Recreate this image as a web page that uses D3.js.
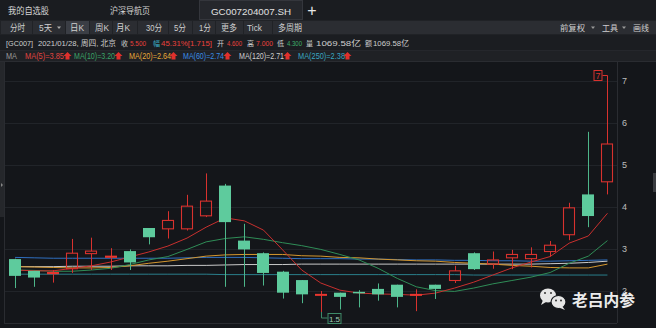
<!DOCTYPE html>
<html><head><meta charset="utf-8">
<script src="https://cdn.jsdelivr.net/npm/d3@7"></script>
<style>
html,body{margin:0;padding:0;background:#14161a;overflow:hidden}
svg{display:block}
text{font-family:"Liberation Sans","Noto Sans CJK SC",sans-serif}
</style></head><body>
<svg id="c" width="656" height="328"></svg>
<script>
// ---------- data ----------
const dates = ["2020-12-15","2020-12-16","2020-12-17","2020-12-18","2020-12-21","2020-12-22","2020-12-23","2020-12-24","2020-12-25","2020-12-28","2020-12-29","2020-12-30","2020-12-31","2021-01-04","2021-01-05","2021-01-06","2021-01-07","2021-01-08","2021-01-11","2021-01-12","2021-01-13","2021-01-14","2021-01-15","2021-01-18","2021-01-19","2021-01-20","2021-01-21","2021-01-22","2021-01-25","2021-01-26","2021-01-27","2021-01-28"];
const openP  = [2.76,2.48,2.40,2.53,2.89,2.79,2.95,3.50,3.48,3.48,3.79,4.51,3.20,2.90,2.46,2.26,1.90,1.96,1.98,2.05,2.15,1.90,2.15,2.25,2.90,2.64,2.79,2.77,2.94,3.34,4.30,4.60];
const closeP = [2.36,2.32,2.44,2.90,2.95,2.83,2.68,3.28,3.68,4.02,4.14,3.64,2.99,2.43,1.96,1.92,1.92,1.86,1.95,1.92,1.86,1.92,2.05,2.48,2.52,2.74,2.87,2.87,3.09,3.98,3.785,5.50];
const highP  = [2.77,2.48,2.50,3.24,3.27,3.02,2.99,3.50,3.90,4.29,4.80,4.55,3.60,2.92,2.48,2.26,2.00,1.96,2.02,2.18,2.15,2.04,2.15,2.60,2.92,2.94,2.98,3.04,3.19,4.10,5.79,7.00];
const lowP   = [2.07,2.10,2.20,2.43,2.50,2.50,2.50,3.11,3.25,3.44,3.76,2.10,2.10,2.13,1.82,1.71,1.50,1.56,1.61,1.77,1.61,1.52,1.81,2.19,2.50,2.53,2.52,2.56,2.82,3.21,3.52,4.30];
const ma5   = [2.50,2.48,2.48,2.54,2.60,2.69,2.81,2.93,3.07,3.26,3.52,3.74,3.67,3.45,2.98,2.50,2.19,2.02,1.95,1.93,1.92,1.90,1.95,2.07,2.21,2.38,2.55,2.69,2.82,3.14,3.31,3.85];
const ma10  = [2.50,2.49,2.47,2.47,2.50,2.54,2.63,2.74,2.82,2.99,3.17,3.25,3.29,3.23,3.15,3.08,2.99,2.87,2.74,2.54,2.30,2.10,2.01,1.99,2.07,2.17,2.25,2.33,2.44,2.66,2.83,3.20];
const ma20  = [2.58,2.57,2.56,2.55,2.55,2.56,2.60,2.66,2.71,2.77,2.83,2.86,2.87,2.87,2.87,2.84,2.83,2.80,2.79,2.76,2.74,2.72,2.71,2.68,2.66,2.64,2.61,2.59,2.56,2.55,2.55,2.64];
const ma60  = [2.80,2.79,2.78,2.78,2.78,2.78,2.78,2.78,2.78,2.79,2.80,2.80,2.80,2.79,2.78,2.77,2.77,2.77,2.76,2.76,2.75,2.74,2.74,2.73,2.73,2.72,2.72,2.71,2.71,2.72,2.73,2.74];
const ma120 = [2.58,2.58,2.58,2.59,2.59,2.59,2.60,2.60,2.60,2.61,2.61,2.62,2.63,2.63,2.63,2.64,2.64,2.64,2.64,2.64,2.64,2.64,2.64,2.64,2.64,2.64,2.64,2.64,2.65,2.66,2.68,2.71];
const ma250 = [2.40,2.40,2.40,2.40,2.40,2.40,2.40,2.40,2.40,2.40,2.40,2.39,2.39,2.39,2.39,2.39,2.39,2.39,2.39,2.39,2.39,2.39,2.39,2.39,2.38,2.38,2.38,2.38,2.38,2.38,2.38,2.38];
const yTicks = [2,3,4,5,6,7];
const tabs = ["我的自选股","沪深导航页","GC007204007.SH"];
const periods = ["分时","5天","日K","周K","月K","30分","5分","1分","更多","Tick","多周期"];
const rightTools = ["前复权","工具","画线"];
const maNames = ["MA(5)","MA(10)","MA(20)","MA(60)","MA(120)","MA(250)"];

// ---------- setup ----------
const svg = d3.select("#c");
const W = 656, H = 328;
const plotL = 5.5, plotR = 617, plotT = 62, plotB = 323;
const UP = "#d8322e", DOWN = "#5ecb9d", DOWNW = "#4db68a";
const maColors = ["#c8302e","#2f8d57","#d4962e","#2f6fc0","#c9c9c9","#2a7f8c"];
const maLabelColors = ["#e04440","#3aa468","#e8a838","#3a8ee6","#d0d0d0","#3aa6c0"];

function txt(g, x, y, s, color, size, len, anchor){
  const t = g.append("text").attr("x", x).attr("y", y).text(s)
    .attr("fill", color).attr("font-size", size).attr("dominant-baseline","central");
  if (anchor) t.attr("text-anchor", anchor);
  if (len) t.attr("textLength", len).attr("lengthAdjust","spacingAndGlyphs");
  return t;
}

// backgrounds
svg.append("rect").attr("width",W).attr("height",H).attr("fill","#14161a");
svg.append("rect").attr("x",0).attr("y",0).attr("width",W).attr("height",20).attr("fill","#1a1c20");
svg.append("rect").attr("x",0).attr("y",20).attr("width",W).attr("height",15).attr("fill","#202226");
svg.append("rect").attr("x",0).attr("y",35).attr("width",W).attr("height",15).attr("fill","#1b1d21");
svg.append("rect").attr("x",0).attr("y",50).attr("width",W).attr("height",12).attr("fill","#1f2125");
svg.append("line").attr("x1",0).attr("x2",W).attr("y1",50.5).attr("y2",50.5).attr("stroke","#25272c");
svg.append("line").attr("x1",0).attr("x2",W).attr("y1",61.5).attr("y2",61.5).attr("stroke","#2a2c31");

// tab bar
const tb = svg.append("g");
tb.append("rect").attr("x",199.5).attr("y",0.5).attr("width",103).attr("height",19).attr("fill","#25272c").attr("stroke","#34363c");
txt(tb, 8, 11, tabs[0], "#d4d4d4", 9, 41);
txt(tb, 110, 11, tabs[1], "#d4d4d4", 9, 40);
txt(tb, 211, 11, tabs[2], "#e0e0e0", 9.5, 80);
txt(tb, 312, 10, "+", "#e8e8e8", 16, null, "middle");

// toolbar buttons
const btnEdges = [0,32,65,89,112,137,168,192,215,243,272,310];
const btnText = [[10,15],[39,13],[70,14],[95,14],[116,14],[146,16],[174,12],[199,12],[221,16],[247,15],[278,24]];
const bar = svg.append("g");
periods.forEach((p,i)=>{
  const x0 = btnEdges[i], x1 = btnEdges[i+1];
  bar.append("rect").attr("x",x0+1).attr("y",21).attr("width",x1-x0-1).attr("height",13)
    .attr("fill", p==="日K" ? "#3b3e45" : "#2b2d32");
  txt(bar, btnText[i][0], 27.5, p, "#cfcfcf", 9, btnText[i][1]);
});
bar.append("path").attr("d","M57,26.5 L61,26.5 L59,29 Z").attr("fill","#aaa");
bar.append("rect").attr("x",310).attr("y",21).attr("width",346).attr("height",13).attr("fill","#2b2d32");
txt(bar, 560, 27.5, rightTools[0], "#cfcfcf", 8.5, 25);
bar.append("path").attr("d","M591,26.5 L595,26.5 L593,29 Z").attr("fill","#999");
txt(bar, 602, 27.5, rightTools[1], "#cfcfcf", 8.5, 16);
bar.append("path").attr("d","M622,26.5 L626,26.5 L624,29 Z").attr("fill","#999");
txt(bar, 633, 27.5, rightTools[2], "#cfcfcf", 8.5, 16);

// info row
const info = svg.append("g");
const iy = 43;
const W1 = "#cdcdcd", R = "#e8413c", G = "#3fae6a";
const fs = 7.5;
txt(info, 6, iy, "[GC007]", W1, fs, 27);
txt(info, 38, iy, "2021/01/28, 周四, 北京", W1, fs, 78);
txt(info, 121, iy, "收", W1, 7);
txt(info, 130, iy, closeP[31].toFixed(3), R, fs, 16);
txt(info, 153, iy, "幅", "#3aa6c0", 7);
txt(info, 161, iy, "45.31%[1.715]", R, fs, 51);
txt(info, 217, iy, "开", W1, 7);
txt(info, 227, iy, openP[31].toFixed(3), R, fs, 15);
txt(info, 247, iy, "高", W1, 7);
txt(info, 256, iy, highP[31].toFixed(3), R, fs, 17);
txt(info, 277, iy, "低", W1, 7);
txt(info, 287, iy, lowP[31].toFixed(3), G, fs, 15);
txt(info, 306, iy, "量", W1, 7);
txt(info, 316, iy, "1069.58亿", W1, fs, 45);
txt(info, 365, iy, "额", W1, 7);
txt(info, 373, iy, "1069.58亿", W1, fs, 36);

// MA row
const mr = svg.append("g");
const my = 56;
txt(mr, 6, my, "MA", "#9a9a9a", 8.5, 11);
const maLast = [ma5, ma10, ma20, ma60, ma120, ma250].map(a => a[a.length-1]);
const maX = [[25,39,66],[74,41,117],[129,42,172],[183,41,226],[239,45,286],[298,47,346]];
maNames.forEach((n,i)=>{
  txt(mr, maX[i][0], my, n + "=" + maLast[i].toFixed(2), maLabelColors[i], 8.5, maX[i][1]);
  const ax = maX[i][2];
  mr.append("path").attr("d",`M${ax},${my+3.5} L${ax},${my} L${ax-2},${my} L${ax+2},${my-4} L${ax+6},${my} L${ax+4},${my} L${ax+4},${my+3.5} Z`)
    .attr("transform", `translate(${-0.5},0)`).attr("fill","#e0302c");
});

// ---------- chart ----------
const x = d3.scaleBand().domain(dates).range([plotL, plotR]).paddingInner(0.37).paddingOuter(0.185);
const y = d3.scaleLinear().domain([2, 7]).range([291, 81]);
const bw = x.bandwidth();
const cx = d => Math.round(x(d) + bw/2) + 0.5;

// left handle + borders
svg.append("rect").attr("x",0).attr("y",62).attr("width",4).attr("height",155).attr("fill","#25272b");
svg.append("path").attr("d","M1,183 L3,185 L1,187 Z").attr("fill","#888");
svg.append("line").attr("x1",4.5).attr("x2",4.5).attr("y1",62).attr("y2",plotB).attr("stroke","#2a2c31");
svg.append("line").attr("x1",plotR+0.5).attr("x2",plotR+0.5).attr("y1",62).attr("y2",plotB).attr("stroke","#2a2c31");
svg.append("line").attr("x1",4).attr("x2",plotR).attr("y1",plotB+0.5).attr("y2",plotB+0.5).attr("stroke","#2a2c31");
svg.append("rect").attr("x",653).attr("y",173).attr("width",3).attr("height",19).attr("fill","#3a3c40");

// grid
svg.append("g").selectAll("line").data(yTicks).join("line")
  .attr("x1",5).attr("x2",plotR).attr("y1",d=>Math.round(y(d))+0.5).attr("y2",d=>Math.round(y(d))+0.5)
  .attr("stroke","#212429");

// right axis
const axis = svg.append("g").attr("transform",`translate(${plotR},0)`)
  .call(d3.axisRight(y).tickValues(yTicks).tickSize(0).tickPadding(5).tickFormat(d3.format("d")));
axis.select(".domain").remove();
axis.selectAll("text").attr("fill","#bdbdbd").attr("font-size",9).attr("font-family","Liberation Sans, sans-serif");

// MA lines (drawn under candles)
const mas = [ma5, ma10, ma20, ma60, ma120, ma250];
const lineGen = arr => d3.line().x((d,i)=>x(dates[i])+bw/2).y(d=>y(d))(arr);
const ml = svg.append("g");
[5,4,3,2,1,0].forEach(k=>{
  ml.append("path").attr("d", lineGen(mas[k])).attr("fill","none")
    .attr("stroke", maColors[k]).attr("stroke-width", 1);
});

// candles
const candles = dates.map((d,i)=>({d, o:openP[i], c:closeP[i], h:highP[i], l:lowP[i]}));
const cg = svg.append("g");
candles.forEach(k=>{
  const up = k.c >= k.o;
  const xc = cx(k.d);
  const x0 = Math.round(x(k.d)) + 0.5;
  const w = Math.round(bw) - 1;
  const yt = y(Math.max(k.o,k.c)), yb = y(Math.min(k.o,k.c));
  const hgt = Math.max(yb - yt, 1);
  if (up) {
    cg.append("line").attr("x1",xc).attr("x2",xc).attr("y1",y(k.h)).attr("y2",yt).attr("stroke",UP);
    cg.append("line").attr("x1",xc).attr("x2",xc).attr("y1",yt+hgt).attr("y2",y(k.l)).attr("stroke",UP);
    if (hgt < 2.5) {
      cg.append("rect").attr("x",x0-0.5).attr("y",yt-0.5).attr("width",w+1).attr("height",Math.max(hgt,1.5)+0.5).attr("fill","#e8362f");
    } else {
      cg.append("rect").attr("x",x0).attr("y",yt).attr("width",w).attr("height",hgt)
        .attr("fill","none").attr("stroke",UP).attr("stroke-width",1.1);
    }
  } else {
    cg.append("line").attr("x1",xc).attr("x2",xc).attr("y1",y(k.h)).attr("y2",y(k.l)).attr("stroke",DOWNW);
    cg.append("rect").attr("x",x0-0.5).attr("y",yt).attr("width",w+1).attr("height",Math.max(hgt,1.5)).attr("fill",DOWN);
  }
});

// high / low markers
const iMax = d3.maxIndex(highP), iMin = d3.minIndex(lowP);
const hm = svg.append("g");
{
  const xc = cx(dates[iMax]), yy = y(highP[iMax]);
  hm.append("path").attr("d",`M${xc},${yy} L${xc},${yy-5.5} L${xc-5},${yy-5.5}`).attr("fill","none").attr("stroke",UP);
  hm.append("rect").attr("x",xc-13.5).attr("y",yy-10.5).attr("width",8).attr("height",10).attr("fill","#14161a").attr("stroke",UP);
  txt(hm, xc-9.5, yy-5, d3.format("d")(highP[iMax]), UP, 9, null, "middle");
}
{
  const xc = cx(dates[iMin]), yy = y(lowP[iMin]);
  hm.append("path").attr("d",`M${xc},${yy} L${xc},${yy+6} L${xc+6},${yy+6}`).attr("fill","none").attr("stroke","#3e8a68");
  hm.append("rect").attr("x",xc+6.5).attr("y",yy+1.5).attr("width",13).attr("height",10).attr("fill","#14161a").attr("stroke","#3e8a68");
  txt(hm, xc+13, yy+7, String(lowP[iMin]), "#9fcfb8", 8, null, "middle");
}

// watermark
const wm = svg.append("g");
wm.append("ellipse").attr("cx",548).attr("cy",295.5).attr("rx",8).attr("ry",7).attr("fill","#e6e6e6");
wm.append("path").attr("d","M543,300 L541,305 L546,302 Z").attr("fill","#e6e6e6");
wm.append("ellipse").attr("cx",558.5).attr("cy",302).attr("rx",7.5).attr("ry",6.5).attr("fill","#e6e6e6").attr("stroke","#14161a").attr("stroke-width",1.2);
wm.append("path").attr("d","M562,306 L565,310 L559,307.5 Z").attr("fill","#e6e6e6");
[[545,293],[551,293],[556,300.5],[561,300.5]].forEach(p=>wm.append("circle").attr("cx",p[0]).attr("cy",p[1]).attr("r",1).attr("fill","#333"));
txt(wm, 572, 300, "老吕内参", "#ececec", 15.5, 63).attr("font-family","Noto Sans CJK SC").attr("font-weight","bold");
</script>
</body></html>
